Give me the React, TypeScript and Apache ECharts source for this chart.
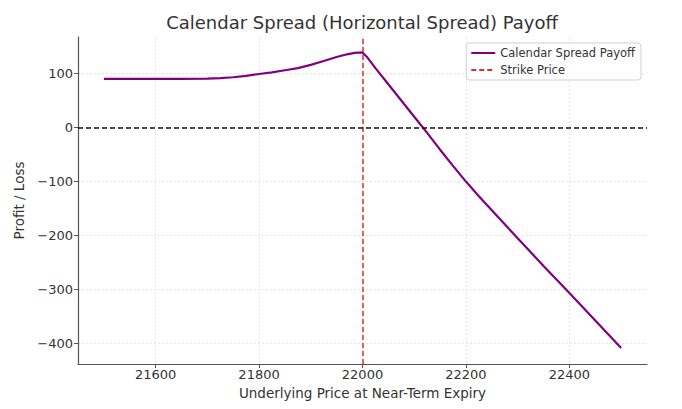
import React, { useEffect, useRef } from 'react';
import * as echarts from 'echarts';

const titleText = 'Calendar Spread (Horizontal Spread) Payoff';
const xName = 'Underlying Price at Near-Term Expiry';
const yName = 'Profit / Loss';
const seriesName = 'Calendar Spread Payoff';
const strikeName = 'Strike Price';

const prices = [21500, 21550, 21600, 21650, 21700, 21725, 21750, 21775, 21800, 21825, 21850, 21875, 21900, 21925, 21950, 21970, 21985, 22000, 22010, 22025, 22050, 22075, 22100, 22125, 22150, 22175, 22200, 22225, 22250, 22275, 22300, 22350, 22400, 22450, 22500];
const payoff = [90, 90, 90, 90, 90.5, 91.5, 93, 95.5, 99, 102, 106, 110, 116, 123, 130.5, 135.5, 138, 139, 129, 110, 80, 50, 20, -10, -41, -71, -100, -127, -153, -179, -205, -256, -306, -357, -408];
const strike = 22000;
const xTicks = [21600, 21800, 22000, 22200, 22400];
const yTicks = [-400, -300, -200, -100, 0, 100];
const xRange = [21450, 22550];
const yRange = [-437.5, 167.5];

const FONT = 'DejaVu Sans';
const fmt = (v: number) => String(v).replace('-', '\u2212');

export default function App() {
  const ref = useRef<HTMLDivElement>(null);
  useEffect(() => {
    if (!ref.current) return;
    const chart = echarts.init(ref.current, null, { renderer: 'svg' });
    const gridLine = { show: true, lineStyle: { color: '#dedede', width: 0.8, type: [2, 2] } };
    chart.setOption({
      animation: false,
      textStyle: { fontFamily: FONT },
      grid: { left: 78, right: 35, top: 37, bottom: 45, containLabel: false },
      graphic: [
        {
          type: 'text',
          x: 362,
          y: 22,
          style: {
            text: titleText,
            fontFamily: FONT,
            fontSize: 18,
            fill: '#333',
            textAlign: 'center',
            textVerticalAlign: 'middle',
          },
        },
      ],
      legend: {
        orient: 'vertical',
        right: 41,
        top: 43,
        padding: [4, 6, 4, 4],
        itemWidth: 24,
        itemHeight: 12,
        itemGap: 5,
        itemStyle: { opacity: 0 },
        backgroundColor: 'rgba(255,255,255,0.85)',
        borderColor: '#d0d0d0',
        borderWidth: 1,
        borderRadius: 3,
        textStyle: { fontFamily: FONT, fontSize: 11.5, color: '#333' },
        data: [seriesName, strikeName],
      },
      xAxis: {
        type: 'value',
        min: xRange[0],
        max: xRange[1],
        name: xName,
        nameLocation: 'middle',
        nameGap: 21,
        nameTextStyle: { fontFamily: FONT, fontSize: 13.5, color: '#333' },
        axisLine: { show: true, onZero: false, lineStyle: { color: '#555', width: 1.2 } },
        axisTick: { show: true, length: 4, customValues: xTicks, lineStyle: { color: '#555' } },
        axisLabel: { customValues: xTicks, formatter: fmt, fontFamily: FONT, fontSize: 13, color: '#333', margin: 4 },
        splitLine: gridLine,
      },
      yAxis: {
        type: 'value',
        min: yRange[0],
        max: yRange[1],
        name: yName,
        nameLocation: 'middle',
        nameGap: 45,
        nameTextStyle: { fontFamily: FONT, fontSize: 13.5, color: '#333' },
        axisLine: { show: true, onZero: false, lineStyle: { color: '#555', width: 1.2 } },
        axisTick: { show: true, length: 4, customValues: yTicks, lineStyle: { color: '#555' } },
        axisLabel: { customValues: yTicks, formatter: fmt, fontFamily: FONT, fontSize: 13, color: '#333', margin: 5 },
        splitLine: gridLine,
      },
      series: [
        {
          name: strikeName,
          type: 'line',
          data: [],
          symbol: 'none',
          color: '#d9302c',
          lineStyle: { color: '#d9302c', width: 1.5, type: [5, 3] },
          markLine: {
            silent: true,
            symbol: ['none', 'none'],
            label: { show: false },
            lineStyle: { color: '#d9302c', width: 1.5, type: [5, 3] },
            data: [{ xAxis: strike }],
          },
          z: 3,
        },
        {
          name: seriesName,
          type: 'line',
          data: prices.map((p, i) => [p, payoff[i]]),
          symbol: 'none',
          smooth: false,
          color: '#800080',
          lineStyle: { color: '#800080', width: 2.2 },
          markLine: {
            silent: true,
            symbol: ['none', 'none'],
            label: { show: false },
            lineStyle: { color: '#111', width: 1.5, type: [5, 3] },
            data: [{ yAxis: 0 }],
          },
          z: 2,
        },
      ],
    });
    return () => chart.dispose();
  }, []);
  return <div ref={ref} style={{ width: 682, height: 409, position: 'absolute', left: 0, top: 0 }} />;
}
